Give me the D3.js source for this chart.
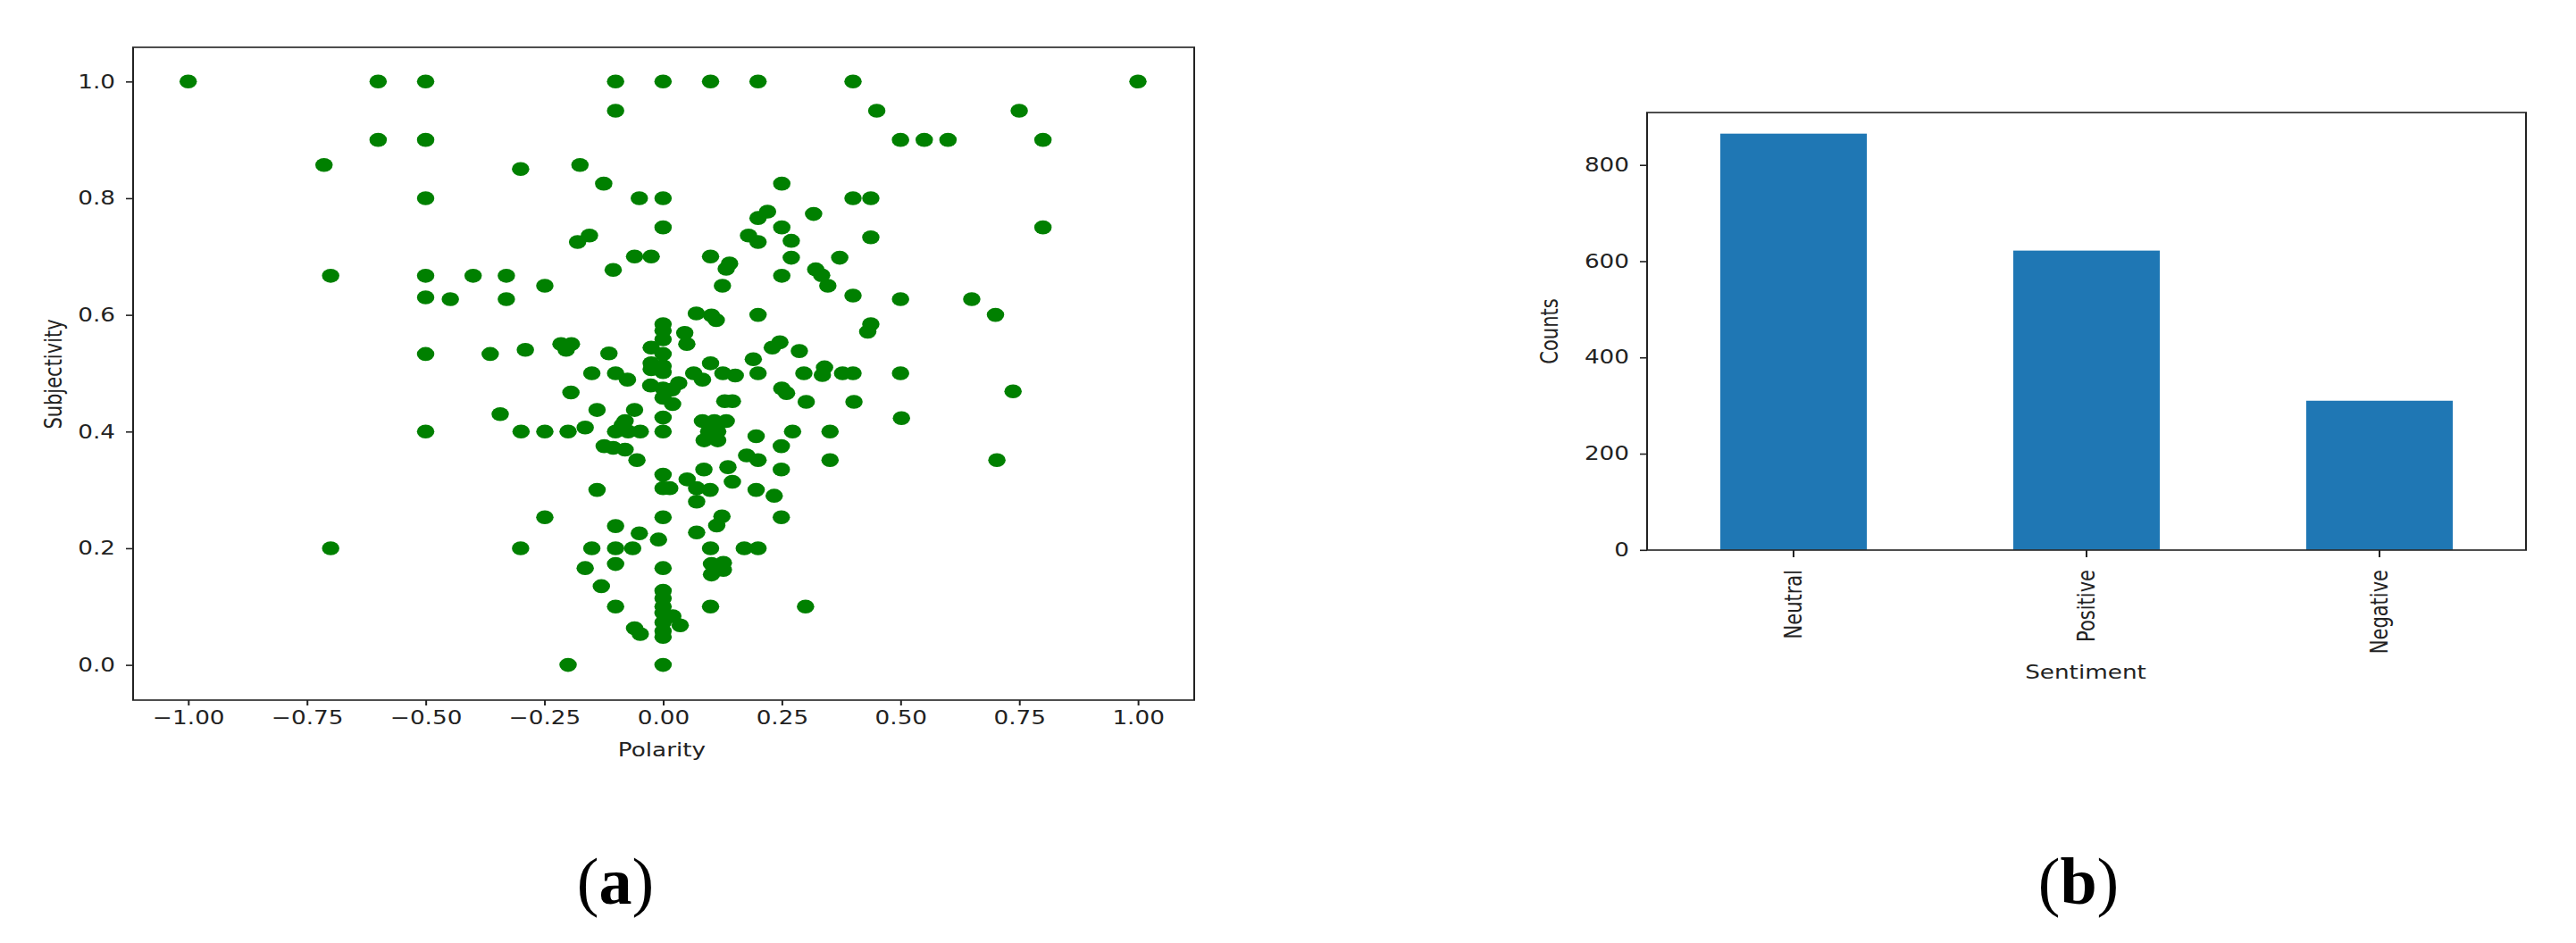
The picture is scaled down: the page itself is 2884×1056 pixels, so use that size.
<!DOCTYPE html>
<html>
  <head>
    <meta charset="utf-8">
    <title>Polarity / Subjectivity and Sentiment Counts</title>
    <script src="https://cdn.jsdelivr.net/npm/d3@7/dist/d3.min.js" charset="utf-8"></script>
    <style>
      body { margin: 0; background: #fff; }
      .tick text { font-family: "DejaVu Sans", sans-serif; fill: #222; }
      .tick line { stroke: #222; }
      .label { font-family: "DejaVu Sans", sans-serif; fill: #222; }
      .caption { font-family: "Liberation Serif", serif; fill: #000; }
    </style>
  </head>
  <body>
    <svg class="figure"></svg>

    <script>
/* DATA */

// (a) polarity / subjectivity of each text
var polarity = [
  -1.0, -0.6, -0.5, -0.1, 0, 0.1, 0.2, 0.4, 1.0,
  -0.1, 0.45, 0.75,
  -0.6, -0.5, 0.5, 0.55, 0.6, 0.8,
  -0.714, -0.3, -0.175, -0.125, 0.25,
  -0.5, -0.05, 0, 0.4, 0.4375,
  0.317, 0.22, 0.2,
  0, 0.25, 0.8,
  -0.155, -0.18, 0.18, 0.2, 0.4375, 0.27,
  -0.06, -0.025, 0.1, 0.27, 0.372,
  0.14, 0.133, -0.105,
  0.3215, 0.334, 0.347,
  0.125, 0.25, -0.33, -0.249, -0.33,
  -0.7, -0.5, -0.4,
  -0.5, -0.448,
  0.4, 0.5, 0.65, 0.7,
  0.07, 0.102, 0.112, 0.2,
  0, 0, 0, 0.0457, 0.05,
  0.4375, 0.431,
  -0.29, -0.215, -0.193, -0.204, -0.114,
  -0.5, -0.364,
  -0.025, 0,
  -0.025, 0, -0.025, 0,
  0.1, 0.19, 0.2, 0.23, 0.246, 0.287,
  -0.15, -0.1, -0.075, 0.0645, 0.083, 0.126, 0.152,
  0.2965, 0.34, 0.3355, 0.378, 0.4, 0.5,
  -0.026, 0, 0.033, 0.019,
  0.25, 0.26,
  -0.194, 0.737,
  0, 0.02,
  0.13, 0.146,
  -0.139, -0.06, -0.343, 0,
  0.3015, 0.402, 0.502,
  -0.299, -0.249, -0.2, -0.164, -0.1, -0.08, -0.0735, -0.048, -0.086, 0,
  0.083, 0.108, 0.133, 0.096, 0.115,
  0.0865, 0.115, 0.196,
  0.2727, 0.3516, -0.5,
  0.249, -0.124, -0.105, -0.08,
  -0.055, 0.176, 0.2, 0.3516, 0.703,
  0.249, 0.086, 0.1366,
  0, 0.0507, 0.146,
  0.0707, 0.099, 0, 0.014, 0.196, 0.234, -0.139,
  0.0707,
  0.249, -0.249, 0, 0.124, 0.113,
  -0.1, -0.05, -0.0096, 0.0707,
  -0.3, -0.15, -0.1, -0.064, 0.1, 0.171, 0.2, -0.7,
  -0.164, -0.1, 0, 0.102, 0.127, 0.102, 0.127,
  -0.13, 0, 0,
  -0.1, 0, 0, 0.1, 0.3,
  0.0205, 0.036, 0, 0, 0,
  -0.06, -0.048,
  -0.2, 0
];

var subjectivity = [
  1.0, 1.0, 1.0, 1.0, 1.0, 1.0, 1.0, 1.0, 1.0,
  0.95, 0.95, 0.95,
  0.9, 0.9, 0.9, 0.9, 0.9, 0.9,
  0.857, 0.85, 0.857, 0.825, 0.825,
  0.8, 0.8, 0.8, 0.8, 0.8,
  0.773, 0.777, 0.766,
  0.75, 0.75, 0.75,
  0.736, 0.725, 0.736, 0.725, 0.733, 0.727,
  0.7, 0.7, 0.7, 0.698, 0.698,
  0.688, 0.679, 0.677,
  0.678, 0.668, 0.65,
  0.65, 0.667, 0.667, 0.65, 0.627,
  0.667, 0.667, 0.667,
  0.63, 0.627,
  0.633, 0.627, 0.627, 0.6,
  0.6025, 0.599, 0.591, 0.6,
  0.584, 0.573, 0.558, 0.569, 0.55,
  0.584, 0.571,
  0.54, 0.55, 0.55, 0.54, 0.534,
  0.533, 0.533,
  0.544, 0.533,
  0.517, 0.512, 0.507, 0.502,
  0.517, 0.524, 0.5, 0.544, 0.553, 0.538,
  0.5, 0.5, 0.489, 0.5, 0.489, 0.5, 0.496,
  0.5, 0.51, 0.497, 0.5, 0.5, 0.5,
  0.479, 0.474, 0.483, 0.472,
  0.474, 0.466,
  0.467, 0.469,
  0.458, 0.447,
  0.452, 0.452,
  0.437, 0.437, 0.43, 0.424,
  0.451, 0.451, 0.423,
  0.4, 0.4, 0.4, 0.407, 0.4, 0.418, 0.4, 0.4, 0.411, 0.4,
  0.418, 0.418, 0.418, 0.4, 0.4,
  0.385, 0.385, 0.392,
  0.4, 0.4, 0.4,
  0.375, 0.375, 0.372, 0.369,
  0.351, 0.359, 0.351, 0.351, 0.351,
  0.335, 0.335, 0.339,
  0.326, 0.318, 0.314,
  0.303, 0.3, 0.303, 0.303, 0.3, 0.29, 0.3,
  0.28,
  0.253, 0.253, 0.253, 0.2545, 0.239,
  0.238, 0.2255, 0.215, 0.227,
  0.2, 0.2, 0.2, 0.2, 0.2, 0.2, 0.2, 0.2,
  0.166, 0.173, 0.166, 0.173, 0.175, 0.155, 0.163,
  0.135, 0.127, 0.114,
  0.1, 0.1, 0.089, 0.1, 0.1,
  0.0836, 0.068, 0.073, 0.058, 0.048,
  0.063, 0.053,
  0, 0
];

var polarityTicks = [-1.0, -0.75, -0.5, -0.25, 0, 0.25, 0.5, 0.75, 1.0];
var subjectivityTicks = [0, 0.2, 0.4, 0.6, 0.8, 1.0];

// (b) number of texts per sentiment class
var sentiments = ["Neutral", "Positive", "Negative"];
var counts = [865, 622, 310];
var countTicks = [0, 200, 400, 600, 800];

/* LAYOUT */

// the source picture was resized wider than tall, so the whole matplotlib
// figure is drawn in a group that is stretched horizontally by SX
var SX = 1.25;
function ux(px) { return px / SX; }   // page x -> unstretched x

var W = 2884, H = 1056, FS = 21;

var svg = d3.select("svg.figure")
    .attr("width", W)
    .attr("height", H);

svg.append("rect").attr("width", W).attr("height", H).attr("fill", "#fff");

var fig = svg.append("g").attr("transform", "scale(" + SX + ",1)");

/* (a) SCATTER */
var sc = {left: 149, right: 1337, top: 53, bottom: 784};

var x = d3.scaleLinear().domain([-1, 1]).range([ux(210.7), ux(1274)]),
    y = d3.scaleLinear().domain([0, 1]).range([744.6, 91.3]);

var pts = polarity.map(function(p, i) { return {p: p, s: subjectivity[i]}; });

fig.append("g")
    .selectAll("circle")
    .data(pts)
  .enter().append("circle")
    .attr("cx", function(d) { return x(d.p); })
    .attr("cy", function(d) { return y(d.s); })
    .attr("r", 7.8)
    .attr("fill", "#008000");

fig.append("g")
    .attr("transform", "translate(0," + sc.bottom + ")")
    .call(d3.axisBottom(x).tickValues(polarityTicks).tickFormat(d3.format(".2f"))
      .tickSize(6).tickPadding(6))
    .call(styleAxis);

fig.append("g")
    .attr("transform", "translate(" + ux(sc.left) + ",0)")
    .call(d3.axisLeft(y).tickValues(subjectivityTicks).tickFormat(d3.format(".1f"))
      .tickSize(ux(8)).tickPadding(ux(12)))
    .call(styleAxis);

fig.append("rect")
    .attr("x", ux(sc.left))
    .attr("y", sc.top)
    .attr("width", ux(sc.right - sc.left))
    .attr("height", sc.bottom - sc.top)
    .attr("fill", "none")
    .attr("stroke", "#222")
    .attr("stroke-width", 1.6);

fig.append("text")
    .attr("class", "label")
    .attr("x", ux(741))
    .attr("y", 847)
    .attr("text-anchor", "middle")
    .style("font-size", FS + "px")
    .text("Polarity");

fig.append("text")
    .attr("class", "label")
    .attr("transform", "translate(" + ux(69) + ",419)rotate(-90)")
    .attr("text-anchor", "middle")
    .style("font-size", FS + "px")
    .text("Subjectivity");

/* (b) BAR CHART */
var bc = {left: 1844, right: 2828, top: 126, bottom: 616};

var xb = d3.scaleBand().domain(sentiments).range([ux(bc.left), ux(bc.right)])
      .paddingInner(0.5).paddingOuter(0.25),
    yb = d3.scaleLinear().domain([0, 800]).range([615.8, 184.7]);

fig.append("g")
    .selectAll("rect")
    .data(sentiments)
  .enter().append("rect")
    .attr("x", function(d) { return xb(d); })
    .attr("y", function(d, i) { return yb(counts[i]); })
    .attr("width", xb.bandwidth())
    .attr("height", function(d, i) { return yb(0) - yb(counts[i]); })
    .attr("fill", "#1f77b4");

fig.append("g")
    .attr("transform", "translate(0," + bc.bottom + ")")
    .call(d3.axisBottom(xb).tickSize(8).tickPadding(0))
    .call(styleAxis)
    .selectAll("text")
      .attr("transform", "rotate(-90)")
      .attr("text-anchor", "end")
      .attr("x", -22)
      .attr("y", 0)
      .attr("dy", "0.35em");

fig.append("g")
    .attr("transform", "translate(" + ux(bc.left) + ",0)")
    .call(d3.axisLeft(yb).tickValues(countTicks).tickFormat(d3.format("d"))
      .tickSize(ux(8)).tickPadding(ux(12)))
    .call(styleAxis);

fig.append("rect")
    .attr("x", ux(bc.left))
    .attr("y", bc.top)
    .attr("width", ux(bc.right - bc.left))
    .attr("height", bc.bottom - bc.top)
    .attr("fill", "none")
    .attr("stroke", "#222")
    .attr("stroke-width", 1.6);

fig.append("text")
    .attr("class", "label")
    .attr("x", ux(2335))
    .attr("y", 760)
    .attr("text-anchor", "middle")
    .style("font-size", FS + "px")
    .text("Sentiment");

fig.append("text")
    .attr("class", "label")
    .attr("transform", "translate(" + ux(1744) + ",371)rotate(-90)")
    .attr("text-anchor", "middle")
    .style("font-size", FS + "px")
    .text("Counts");

/* CAPTIONS (not part of the stretched figure) */
[["a", 689], ["b", 2327]].forEach(function(c) {
  var t = svg.append("text")
      .attr("class", "caption")
      .attr("x", c[1])
      .attr("y", 1012)
      .attr("text-anchor", "middle")
      .style("font-size", "74px");
  t.append("tspan").text("(");
  t.append("tspan").style("font-weight", "bold").text(c[0]);
  t.append("tspan").text(")");
});

// matplotlib-like look for the d3 axes
function styleAxis(g) {
  g.select(".domain").remove();
  g.selectAll(".tick line").attr("stroke", "#222").attr("stroke-width", 1.6);
  g.selectAll(".tick text").style("font-size", FS + "px").attr("fill", "#222");
}
    </script>
  </body>
</html>
